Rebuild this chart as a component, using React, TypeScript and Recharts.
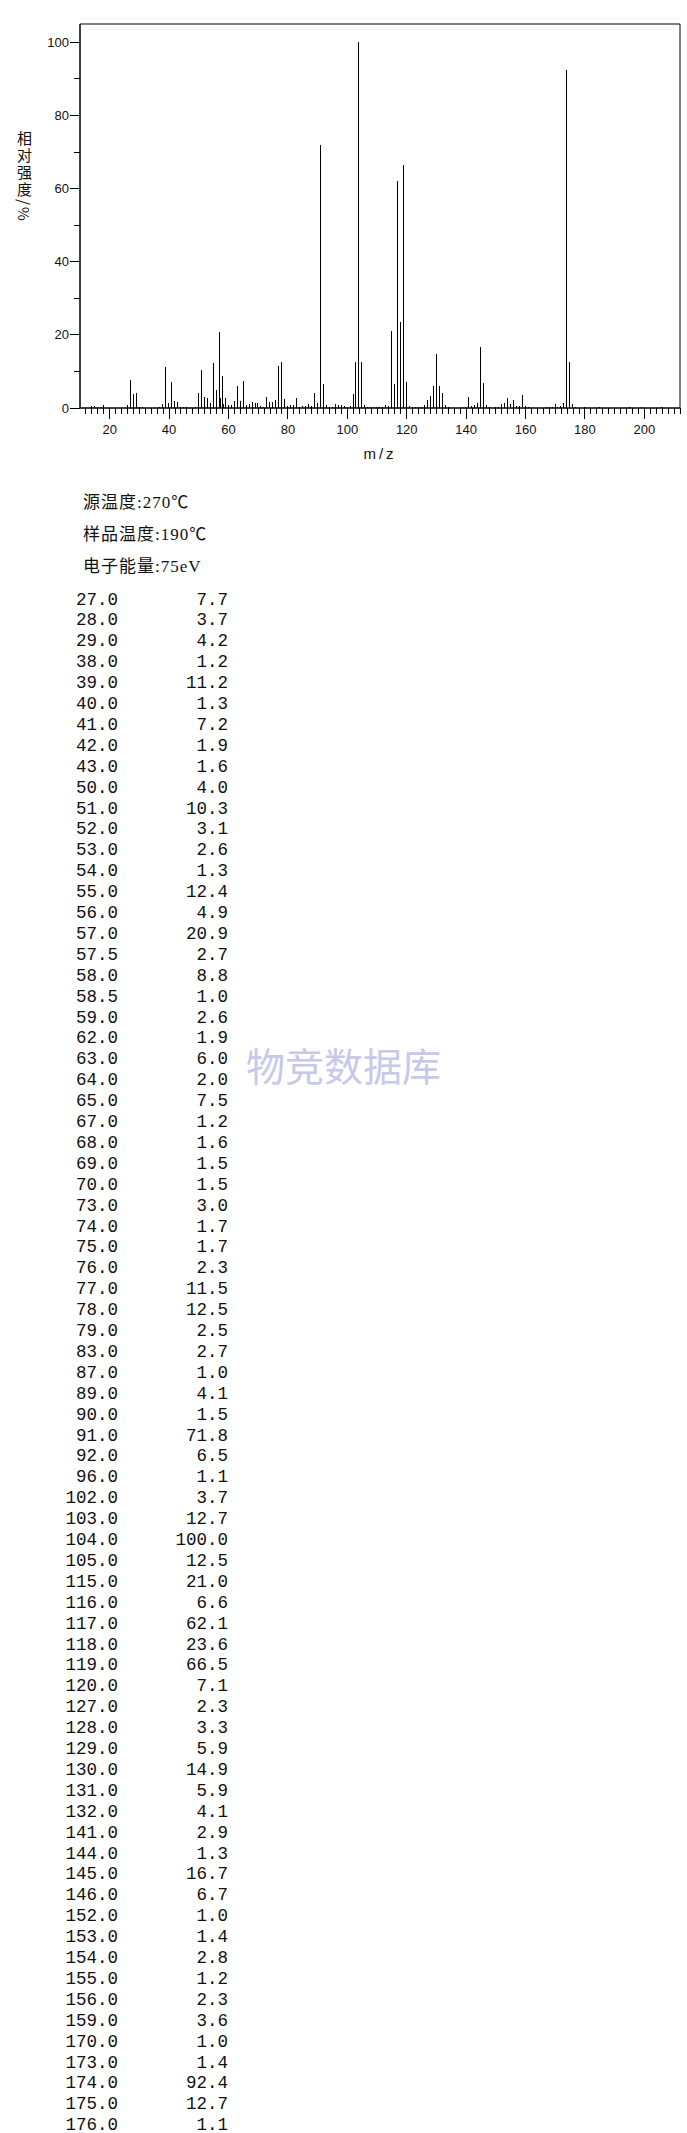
import React from "react";
import { BarChart, Bar, XAxis, YAxis, ReferenceArea } from "recharts";

// peaks listed in the table (m/z, relative intensity %)
const tableMz = [
  27, 28, 29, 38, 39, 40, 41, 42, 43, 50, 51, 52, 53, 54, 55, 56, 57, 57.5, 58, 58.5,
  59, 62, 63, 64, 65, 67, 68, 69, 70, 73, 74, 75, 76, 77, 78, 79, 83, 87, 89, 90,
  91, 92, 96, 102, 103, 104, 105, 115, 116, 117, 118, 119, 120, 127, 128, 129, 130, 131, 132, 141,
  144, 145, 146, 152, 153, 154, 155, 156, 159, 170, 173, 174, 175, 176,
];
const tableInt = [
  7.7, 3.7, 4.2, 1.2, 11.2, 1.3, 7.2, 1.9, 1.6, 4.0, 10.3, 3.1, 2.6, 1.3, 12.4, 4.9, 20.9, 2.7, 8.8, 1.0,
  2.6, 1.9, 6.0, 2.0, 7.5, 1.2, 1.6, 1.5, 1.5, 3.0, 1.7, 1.7, 2.3, 11.5, 12.5, 2.5, 2.7, 1.0, 4.1, 1.5,
  71.8, 6.5, 1.1, 3.7, 12.7, 100.0, 12.5, 21.0, 6.6, 62.1, 23.6, 66.5, 7.1, 2.3, 3.3, 5.9, 14.9, 5.9, 4.1, 2.9,
  1.3, 16.7, 6.7, 1.0, 1.4, 2.8, 1.2, 2.3, 3.6, 1.0, 1.4, 92.4, 12.7, 1.1,
];

// small peaks (< 1 %) visible in the spectrum only
const minorMz = [
  14, 15, 17, 18, 26, 30, 31, 37, 44, 45, 46, 49, 60, 61, 66, 71, 72, 80, 81, 82,
  84, 85, 86, 88, 93, 94, 95, 97, 98, 99, 100, 101, 106, 107, 108, 109, 110, 111, 112, 113,
  114, 121, 122, 123, 124, 125, 126, 133, 134, 139, 140, 142, 143, 147, 148, 150, 151, 157, 158, 160,
  161, 167, 168, 169, 171, 172, 177, 180, 185, 195, 199, 206,
];
const minorInt = [
  0.5, 0.5, 0.3, 0.9, 0.9, 0.3, 0.3, 0.4, 0.4, 0.3, 0.3, 0.3, 0.8, 0.8, 0.7, 0.5, 0.3, 0.5, 0.7, 0.7,
  0.3, 0.6, 0.6, 0.5, 0.7, 0.4, 0.3, 0.7, 0.7, 0.5, 0.4, 0.6, 0.9, 0.4, 0.3, 0.3, 0.3, 0.3, 0.4, 0.7,
  0.5, 0.5, 0.3, 0.3, 0.3, 0.3, 0.7, 0.8, 0.3, 0.3, 0.3, 0.6, 0.8, 0.9, 0.4, 0.3, 0.4, 0.6, 0.6, 0.5,
  0.3, 0.4, 0.3, 0.3, 0.4, 0.6, 0.3, 0.2, 0.3, 0.2, 0.3, 0.3,
];

const xLabelTicks = [20, 40, 60, 80, 100, 120, 140, 160, 180, 200];
const yLabelTicks = [0, 20, 40, 60, 80, 100];

const conditions = ["源温度:270℃", "样品温度:190℃", "电子能量:75eV"];

const xTicks = Array.from({ length: 101 }, (_, i) => 12 + i * 2);
const yTicks = Array.from({ length: 11 }, (_, i) => i * 10);

const peaks = [
  ...tableMz.map((mz, i) => ({ mz, rel: tableInt[i] })),
  ...minorMz.map((mz, i) => ({ mz, rel: minorInt[i] })),
].sort((a, b) => a.mz - b.mz);

const tickFont = '"Liberation Sans", Arial, sans-serif';
const cjkFont = '"Noto Sans CJK SC", sans-serif';

const Stick = (props: any) => {
  const { x, y, width, height } = props;
  if (!height || height <= 0) return null;
  const cx = Math.round(x + width / 2 - 0.5);
  return <rect x={cx} y={y} width={1} height={Math.max(height, 1)} fill="#000" shapeRendering="crispEdges" />;
};

const XTick = ({ x, y, payload }: any) => {
  const major = xLabelTicks.includes(payload.value);
  return (
    <g>
      <line x1={x} x2={x} y1={y} y2={y + (major ? 11 : 6)} stroke="#000" shapeRendering="crispEdges" />
      {major && (
        <text x={x} y={y + 26} textAnchor="middle" fontSize={13} fill="#111" fontFamily={tickFont}>
          {payload.value}
        </text>
      )}
    </g>
  );
};

const YTick = ({ x, y, payload }: any) => {
  const major = yLabelTicks.includes(payload.value);
  return (
    <g>
      <line x1={x - (major ? 10 : 6)} x2={x} y1={y} y2={y} stroke="#000" shapeRendering="crispEdges" />
      {major && (
        <text x={x - 11} y={y + 4.5} textAnchor="end" fontSize={13} fill="#111" fontFamily={tickFont}>
          {payload.value}
        </text>
      )}
    </g>
  );
};

const XTitle = ({ viewBox }: any) => (
  <text x={viewBox.x + viewBox.width / 2} y={viewBox.y + 51} textAnchor="middle"
    fontSize={15} letterSpacing={3} fill="#111" fontFamily={tickFont}>
    m/z
  </text>
);

export default function App() {
  return (
    <div style={{ position: "relative", width: 687, height: 2133, background: "#fff", overflow: "hidden" }}>
      <style>{`body{margin:0;background:#fff}`}</style>
      <BarChart width={687} height={475} data={peaks} barSize={1}
        margin={{ top: 24, right: 7, bottom: 0, left: 0 }}>
        <XAxis dataKey="mz" type="number" domain={[10, 212]} ticks={xTicks} interval={0}
          allowDataOverflow height={67} tickSize={0} tickMargin={0} tickLine={false}
          tick={<XTick />} axisLine={{ stroke: "#000" }} label={<XTitle />} />
        <YAxis type="number" domain={[0, 105]} ticks={yTicks} interval={0} width={80}
          tickSize={0} tickMargin={0} tickLine={false} tick={<YTick />}
          axisLine={{ stroke: "#000" }} />
        <ReferenceArea x1={10} x2={212} y1={0} y2={105} fill="none" stroke="#000" strokeOpacity={1} fillOpacity={0} />
        <Bar dataKey="rel" shape={<Stick />} isAnimationActive={false} />
      </BarChart>

      {/* y axis title, written vertically */}
      <div style={{
        position: "absolute", left: 16, top: 131, width: 17, fontSize: 15, lineHeight: "17px",
        letterSpacing: 2, writingMode: "vertical-rl", fontFamily: cjkFont, color: "#111", whiteSpace: "nowrap",
      }}>
        相对强度/%
      </div>

      {conditions.map((line, i) => (
        <div key={line} style={{
          position: "absolute", left: 83, top: 492 + i * 32, fontSize: 17, lineHeight: "22px", letterSpacing: 1,
          fontFamily: '"Liberation Serif", "Noto Sans CJK SC", serif', color: "#111", whiteSpace: "nowrap",
        }}>
          {line}
        </div>
      ))}

      {tableMz.map((mz, i) => (
        <div key={mz} style={{
          position: "absolute", left: 0, top: 600 - 10.45 + i * 20.9, height: 20.9, lineHeight: "20.9px",
          fontFamily: '"Liberation Mono", "Courier New", monospace', fontSize: 17.5, color: "#111",
        }}>
          <span style={{ position: "absolute", right: -118, width: 80, textAlign: "right" }}>{mz.toFixed(1)}</span>
          <span style={{ position: "absolute", right: -228, width: 80, textAlign: "right" }}>{tableInt[i].toFixed(1)}</span>
        </div>
      ))}

      <div style={{
        position: "absolute", left: 246, top: 1038, fontSize: 39, lineHeight: "52px", color: "#c8c8ea",
        fontFamily: cjkFont, whiteSpace: "nowrap",
      }}>
        物竞数据库
      </div>
    </div>
  );
}
